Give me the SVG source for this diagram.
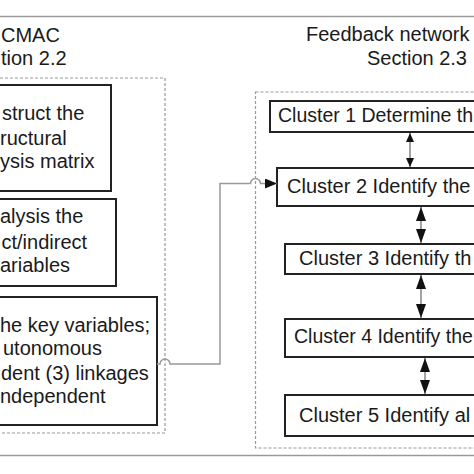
<svg xmlns="http://www.w3.org/2000/svg" width="474" height="474" viewBox="0 0 474 474">
<defs>
<style>
text{font-family:"Liberation Sans",Arial,sans-serif;font-size:20px;fill:#1a1a1a}
.box{fill:#fff;stroke:#222;stroke-width:2}
.dash{fill:none;stroke:#999;stroke-width:1.2;stroke-dasharray:3,2}
.rule{stroke:#9a9a9a;stroke-width:1.6}
.conn{fill:none;stroke:#999;stroke-width:1.5}
.dbl{stroke:#666;stroke-width:1.2}
.end{text-anchor:end}
.tight{font-size:19.5px}
</style>
<marker id="ah" markerUnits="userSpaceOnUse" markerWidth="14" markerHeight="10" refX="12" refY="5" orient="auto">
<path d="M0,0 L12,5 L0,10 Z" fill="#111"/>
</marker>
<marker id="hs" markerUnits="userSpaceOnUse" markerWidth="10" markerHeight="8" refX="9" refY="4" orient="auto-start-reverse">
<path d="M0,0 L9,4 L0,8 Z" fill="#111"/>
</marker>
<marker id="hl" markerUnits="userSpaceOnUse" markerWidth="15" markerHeight="10" refX="14" refY="5" orient="auto-start-reverse">
<path d="M0,0 L14,5 L0,10 Z" fill="#111"/>
</marker>
</defs>
<rect width="474" height="474" fill="#fff"/>
<line class="rule" x1="0" y1="16.5" x2="474" y2="16.5"/>
<line class="rule" x1="0" y1="455.5" x2="474" y2="455.5"/>

<g id="micmac-title">
<text x="1" y="42">CMAC</text>
<text x="1" y="65">tion 2.2</text>
</g>
<g id="feedback-title">
<text x="306" y="41">Feedback network</text>
<text class="end" x="467" y="65">Section 2.3</text>
</g>

<g id="micmac-frame"><rect class="dash" x="-10" y="78" width="175" height="355"/></g>
<g id="feedback-frame"><rect class="dash" x="255.5" y="92" width="240" height="356"/></g>

<g id="step1">
<rect class="box" x="-10" y="85" width="121" height="106"/>
<text x="2" y="120">struct the</text>
<text x="0" y="145">ructural</text>
<text x="0" y="168">ysis matrix</text>
</g>
<g id="step2">
<rect class="box" x="-10" y="199" width="126" height="87"/>
<text x="0" y="223">alysis the</text>
<text x="1.5" y="249">ct/indirect</text>
<text x="0" y="272">ariables</text>
</g>
<g id="step3">
<rect class="box" x="-10" y="297" width="167" height="128"/>
<text x="0" y="332">he key variables;</text>
<text x="3" y="355">utonomous</text>
<text x="1" y="380">dent (3) linkages</text>
<text x="0" y="403">ndependent</text>
</g>

<g id="cluster1">
<rect class="box" x="270" y="101" width="220" height="31"/>
<text class="tight" x="278" y="122">Cluster 1 Determine th</text>
</g>
<g id="cluster2">
<rect class="box" x="277" y="168" width="220" height="38"/>
<text x="287" y="193">Cluster 2 Identify the</text>
</g>
<g id="cluster3">
<rect class="box" x="285" y="244" width="210" height="30"/>
<text x="299" y="265">Cluster 3 Identify th</text>
</g>
<g id="cluster4">
<rect class="box" x="285" y="319" width="210" height="38"/>
<text class="tight" x="294" y="343">Cluster 4 Identify the</text>
</g>
<g id="cluster5">
<rect class="box" x="285" y="395" width="210" height="41"/>
<text x="299" y="422">Cluster 5 Identify al</text>
</g>

<g id="connectors">
<path class="conn" d="M157,364 H160 A5,5 0 0 1 170,364 H220 V183.5 H250.5 A5,5 0 0 1 260.5,183.5 H277" marker-end="url(#ah)"/>
<line class="dbl" x1="410" y1="133" x2="410" y2="167" marker-start="url(#hs)" marker-end="url(#hs)"/>
<line class="dbl" x1="421" y1="207" x2="421" y2="243" marker-start="url(#hl)" marker-end="url(#hl)"/>
<line class="dbl" x1="421" y1="275" x2="421" y2="318" marker-start="url(#hl)" marker-end="url(#hl)"/>
<line class="dbl" x1="425" y1="358" x2="425" y2="394" marker-start="url(#hl)" marker-end="url(#hl)"/>
</g>
</svg>
